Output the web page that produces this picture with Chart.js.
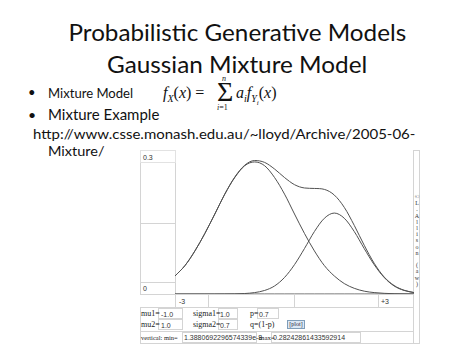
<!DOCTYPE html>
<html>
<head>
<meta charset="utf-8">
<script src="https://cdn.jsdelivr.net/npm/chart.js@4.4.1/dist/chart.umd.min.js"></script>
<style>
  html, body { margin: 0; padding: 0; background: #fff; }
  body { width: 474px; height: 355px; position: relative; overflow: hidden; font-family: Lato, "Open Sans", sans-serif; color: #111; }
  .abs { position: absolute; white-space: nowrap; }
  .fit { display: inline-block; }
  .math { font-family: "Liberation Serif", "DejaVu Serif", serif; font-size: 16px; line-height: 16px; }
  .box { position: absolute; border: 1px solid #d4d4d4; box-sizing: border-box; }
  .lab { position: absolute; font-family: "Liberation Serif", serif; font-size: 8px; line-height: 8px; color: #222; white-space: nowrap; }
  .val { position: absolute; font-family: "Liberation Sans", sans-serif; font-size: 7px; line-height: 7px; color: #333; white-space: nowrap; }
  #plotwrap { position: absolute; left: 175px; top: 150px; width: 239px; height: 146px; }
</style>
</head>
<body>

<!-- slide text; data-w = width to stretch each line to -->
<div class="abs fit" data-w="338" data-c="237" style="top:21px; font-size:23px; line-height:23px;">Probabilistic Generative Models</div>
<div class="abs fit" data-w="260" data-c="237" style="top:53px; font-size:23px; line-height:23px;">Gaussian Mixture Model</div>

<div class="abs" style="left:28px; top:86px; font-size:13px; line-height:13px;">&bull;</div>
<div class="abs fit" data-w="85" style="left:48px; top:86px; font-size:14px; line-height:14px;">Mixture Model</div>

<div class="abs math" style="left:163px; top:85px;"><i>f<sub style="font-size:10px;">X</sub></i>(<i>x</i>) =</div>
<div class="abs math" style="left:217px; top:78px; font-size:28px; line-height:27px;">&Sigma;</div>
<div class="abs math" style="left:222px; top:75px; font-size:8px; line-height:8px;"><i>n</i></div>
<div class="abs math" style="left:217px; top:104px; font-size:8px; line-height:8px;"><i>i</i>=1</div>
<div class="abs math" style="left:236px; top:85px;"><i>a<sub style="font-size:10px;">i</sub>f<sub style="font-size:10px;">Y<sub style="font-size:7px;">i</sub></sub></i>(<i>x</i>)</div>

<div class="abs" style="left:28px; top:108px; font-size:14px; line-height:14px;">&bull;</div>
<div class="abs fit" data-w="111" style="left:48px; top:107px; font-size:15px; line-height:15px;">Mixture Example</div>
<div class="abs fit" data-w="382" style="left:33px; top:127px; font-size:14px; line-height:14px;">http://www.csse.monash.edu.au/~lloyd/Archive/2005-06-</div>
<div class="abs fit" data-w="57" style="left:48px; top:144px; font-size:14px; line-height:14px;">Mixture/</div>

<!-- applet panel -->
<div class="box" style="left:140px; top:150px; width:36px; height:145px;"></div>
<div class="box" style="left:140px; top:150px; width:36px; height:13px; border-color:#e2e2e2;"></div>
<div class="box" style="left:140px; top:223px; width:36px; height:60px;"></div>
<div class="val" style="left:143px; top:154px;">0.3</div>
<div class="val" style="left:143px; top:285px;">0</div>
<div class="box" style="left:413px; top:150px; width:7px; height:194px;"></div>

<div class="box" style="left:175px; top:294px; width:34px; height:14px;"></div>
<div class="box" style="left:208px; top:294px; width:87px; height:14px;"></div>
<div class="box" style="left:294px; top:294px; width:85px; height:14px;"></div>
<div class="box" style="left:378px; top:294px; width:36px; height:14px;"></div>
<div class="val" style="left:179px; top:298px;">-3</div>
<div class="val" style="left:381px; top:298px;">+3</div>

<div class="box" style="left:140px; top:307px; width:274px; height:37px;"></div>
<div class="box" style="left:140px; top:331px; width:274px; height:13px;"></div>
<div class="box" style="left:158px; top:308px; width:25px; height:11px;"></div>
<div class="box" style="left:218px; top:308px; width:20px; height:11px;"></div>
<div class="box" style="left:257px; top:308px; width:22px; height:11px;"></div>
<div class="box" style="left:158px; top:319px; width:25px; height:11px;"></div>
<div class="box" style="left:218px; top:319px; width:20px; height:11px;"></div>
<div class="box" style="left:182px; top:332px; width:75px; height:11px;"></div>
<div class="box" style="left:271px; top:332px; width:90px; height:11px;"></div>

<div class="lab" style="left:141px; top:310px;">mu1=</div>
<div class="val" style="left:161px; top:311px;">-1.0</div>
<div class="lab" style="left:193px; top:310px;">sigma1=</div>
<div class="val" style="left:220px; top:311px;">1.0</div>
<div class="lab" style="left:250px; top:310px;">p=</div>
<div class="val" style="left:259px; top:311px;">0.7</div>

<div class="lab" style="left:141px; top:321px;">mu2=</div>
<div class="val" style="left:161px; top:322px;">1.0</div>
<div class="lab" style="left:193px; top:321px;">sigma2=</div>
<div class="val" style="left:220px; top:322px;">0.7</div>
<div class="lab" style="left:250px; top:321px;">q=(1-p)</div>
<div style="position:absolute; left:287px; top:320px; width:18px; height:9px; border:1px solid #7f9db9; background:#dbe8f5; box-sizing:border-box; font-family:'Liberation Serif',serif; font-size:6px; line-height:7px; text-align:center; color:#223;">[plot]</div>

<div class="lab" style="left:141px; top:334px; font-size:6.5px;">vertical: min=</div>
<div class="val" style="left:184px; top:334px;">1.3880692296574339e-8</div>
<div class="lab" style="left:259px; top:334px; font-size:7px;">max=</div>
<div class="val" style="left:273px; top:334px;">0.28242861433592914</div>

<div id="credit" style="position:absolute; left:414px; top:194px; width:6px; font-family:'Liberation Serif',serif; font-size:6px; line-height:6.2px; text-align:center; color:#333;"></div>

<div id="plotwrap"><canvas id="mix" width="239" height="146"></canvas></div>

<script>
// x positions across the applet window (-3 .. +3)
const xs = [-3, -2.75, -2.5, -2.25, -2, -1.75, -1.5, -1.25, -1, -0.75, -0.5, -0.25,
            0, 0.25, 0.5, 0.75, 1, 1.25, 1.5, 1.75, 2, 2.25, 2.5, 2.75, 3];

// component 1 (mu1=-1, sigma1=1, p=0.7)
const comp1 = [0.038, 0.060, 0.091, 0.128, 0.169, 0.211, 0.246, 0.271, 0.279, 0.271, 0.246, 0.211,
               0.169, 0.128, 0.091, 0.060, 0.038, 0.022, 0.012, 0.006, 0.003, 0.0014, 0.0006, 0.0003, 0.0001];

// component 2 (mu2=1, sigma2=0.7, q=0.3)
const comp2 = [0, 0, 0, 0, 0, 0.0001, 0.0003, 0.001, 0.003, 0.0075, 0.017, 0.035,
               0.062, 0.096, 0.132, 0.160, 0.171, 0.160, 0.132, 0.096, 0.062, 0.035, 0.017, 0.0075, 0.003];

// mixture
const mixture = [0.038, 0.060, 0.091, 0.128, 0.169, 0.211, 0.247, 0.272, 0.282, 0.278, 0.264, 0.246,
                 0.231, 0.224, 0.223, 0.221, 0.209, 0.183, 0.145, 0.103, 0.065, 0.036, 0.018, 0.008, 0.003];

const baseline = xs.map(() => 0);

// stretch slide text to the widths in the picture
document.querySelectorAll('.fit').forEach(el => {
    const w = el.offsetWidth;
    const target = +el.dataset.w;
    const s = target / w;
    if (el.dataset.c) {
        el.style.left = (+el.dataset.c - w / 2) + 'px';
        el.style.transformOrigin = 'center top';
    } else {
        el.style.transformOrigin = 'left top';
    }
    el.style.transform = 'scaleX(' + s + ')';
});

const credit = '\u00a9L.Allison (aw)';
document.getElementById('credit').innerHTML = credit.split('').map(c => c === ' ' ? '&nbsp;' : c).join('<br>');

function series(vals) {
    return vals.map((v, i) => ({ x: xs[i], y: v }));
}

const lineStyle = {
    borderColor: '#505050',
    borderWidth: 1,
    pointRadius: 0,
    fill: false,
    tension: 0.4,
    cubicInterpolationMode: 'monotone'
};

const ctx = document.getElementById('mix').getContext('2d');
const chart = new Chart(ctx, {
    type: 'line',
    data: {
        datasets: [
            { ...lineStyle, data: series(baseline), borderColor: '#555', tension: 0 },
            { ...lineStyle, data: series(comp1) },
            { ...lineStyle, data: series(comp2) },
            { ...lineStyle, data: series(mixture) }
        ]
    },
    options: {
        responsive: false,
        animation: false,
        maintainAspectRatio: false,
        layout: { padding: { top: 2, bottom: 2, left: 0, right: 0 } },
        plugins: { legend: { display: false }, tooltip: { enabled: false } },
        scales: {
            x: { type: 'linear', min: -3, max: 3, display: false },
            y: { min: 0, max: 0.3, display: false }
        }
    }
});
</script>
</body>
</html>
